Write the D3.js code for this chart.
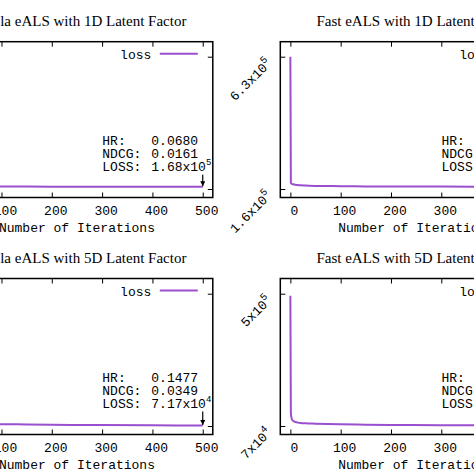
<!DOCTYPE html>
<html>
<head>
<meta charset="utf-8">
<script src="https://cdn.jsdelivr.net/npm/d3@7"></script>
<style>
  html, body { margin: 0; padding: 0; background: #ffffff; }
  svg { display: block; }
</style>
</head>
<body>
<svg id="chart" width="474" height="474"></svg>
<script>
// ---------------- data ----------------
const iterations = [0, 1, 2, 3, 5, 7, 10, 15, 20, 30, 50, 75, 100, 150, 200, 300, 400, 500];

const vanilla1DLoss = [630000, 185000, 180000, 178000, 176000, 175000, 174000, 172500, 171500, 170500, 169500, 169000, 168800, 168500, 168300, 168100, 168050, 168000];
const fast1DLoss    = [630000, 182000, 179000, 178000, 177000, 176000, 175000, 174000, 173000, 172000, 171000, 170500, 170000, 169300, 168900, 168500, 168200, 168000];
const vanilla5DLoss = [493000, 130000, 110000, 100000, 92000, 88000, 85000, 82500, 81000, 79500, 78000, 77000, 76000, 75000, 74200, 73000, 72300, 71700];
const fast5DLoss    = [493000, 112000, 99000, 92000, 87500, 85000, 83000, 81000, 80000, 78800, 77700, 76500, 75500, 74300, 73500, 72600, 72000, 71700];

const titles = [
  "Vanilla eALS with 1D Latent Factor",
  "Fast eALS with 1D Latent Factor",
  "Vanilla eALS with 5D Latent Factor",
  "Fast eALS with 5D Latent Factor"
];

const xDomain = [-20, 520];
const xTicks = [0, 100, 200, 300, 400, 500];
const xLabel = "Number of Iterations";

const yDomain1D = [129800, 683300];
const yDomain5D = [42400, 549400];
const yTicks1D = [160000, 630000];
const yTicks5D = [70000, 500000];
const yTickLabels1D = ["1.6x10^5", "6.3x10^5"];
const yTickLabels5D = ["7x10^4", "5x10^5"];

const legendLabel = "loss";
const statLabels = ["HR:", "NDCG:", "LOSS:"];
const vanilla1DStats = ["0.0680", "0.0161", "1.68x10^5"];
const vanilla5DStats = ["0.1477", "0.0349", "7.17x10^4"];

// ---------------- layout ----------------
const LINE = "#9a4fcf";
const MONO = "'Liberation Mono', 'DejaVu Sans Mono', monospace";
const SERIF = "'Liberation Serif', 'DejaVu Serif', serif";

const panels = [
  { left: -58.9, right: 212.8, top: 41.7, bottom: 197.5, title: titles[0], loss: vanilla1DLoss, yDomain: yDomain1D, yTicks: yTicks1D, yLabels: yTickLabels1D, stats: vanilla1DStats },
  { left: 280.3, right: 552.0, top: 41.7, bottom: 197.5, title: titles[1], loss: fast1DLoss, yDomain: yDomain1D, yTicks: yTicks1D, yLabels: yTickLabels1D, stats: null },
  { left: -58.9, right: 212.8, top: 278.5, bottom: 434.5, title: titles[2], loss: vanilla5DLoss, yDomain: yDomain5D, yTicks: yTicks5D, yLabels: yTickLabels5D, stats: vanilla5DStats },
  { left: 280.3, right: 552.0, top: 278.5, bottom: 434.5, title: titles[3], loss: fast5DLoss, yDomain: yDomain5D, yTicks: yTicks5D, yLabels: yTickLabels5D, stats: null }
];

const svg = d3.select("#chart");

const defs = svg.append("defs");
defs.append("marker")
  .attr("id", "arrowhead")
  .attr("viewBox", "0 0 10 10")
  .attr("refX", 10).attr("refY", 5)
  .attr("markerWidth", 6).attr("markerHeight", 5)
  .attr("markerUnits", "userSpaceOnUse")
  .attr("orient", "auto")
  .append("path").attr("d", "M0,0 L10,5 L0,10 Z").attr("fill", "#000");

function writePower(textSel, str, supSize, supDy) {
  const parts = str.split("^");
  textSel.append("tspan").text(parts[0]);
  if (parts.length > 1) {
    textSel.append("tspan").attr("font-size", supSize).attr("dy", supDy).text(parts[1]);
  }
}

panels.forEach(p => {
  const x = d3.scaleLinear().domain(xDomain).range([p.left, p.right]);
  const y = d3.scaleLinear().domain(p.yDomain).range([p.bottom, p.top]);
  const g = svg.append("g");

  // title
  g.append("text")
    .attr("x", (p.left + p.right) / 2 + 0.5)
    .attr("y", p.top - 16)
    .attr("text-anchor", "middle")
    .attr("font-family", SERIF)
    .attr("font-size", 15)
    .attr("fill", "#000")
    .text(p.title);

  // line
  const lineGen = d3.line()
    .x((d, i) => x(iterations[i]))
    .y(d => y(d))
    .curve(d3.curveMonotoneX);
  g.append("path")
    .datum(p.loss)
    .attr("d", lineGen)
    .attr("fill", "none")
    .attr("stroke", LINE)
    .attr("stroke-width", 2);

  // axes
  const axisStyle = sel => {
    sel.select(".domain").remove();
    sel.selectAll(".tick line").attr("stroke", "#000").attr("stroke-width", 1);
    sel.selectAll("text").attr("font-family", MONO).attr("font-size", 13).attr("fill", "#000");
  };

  g.append("g")
    .attr("transform", `translate(0,${p.bottom})`)
    .call(d3.axisBottom(x).tickValues(xTicks).tickSize(-5).tickPadding(8).tickFormat(d3.format("d")))
    .call(axisStyle)
    .call(s => s.selectAll("text").attr("dx", 3.5));

  g.append("g")
    .attr("transform", `translate(0,${p.top})`)
    .call(d3.axisTop(x).tickValues(xTicks).tickSize(-5).tickFormat(""))
    .call(axisStyle);

  g.append("g")
    .attr("transform", `translate(${p.right},0)`)
    .call(d3.axisRight(y).tickValues(p.yTicks).tickSize(-5).tickFormat(""))
    .call(axisStyle);

  const leftAxis = g.append("g")
    .attr("transform", `translate(${p.left},0)`)
    .call(d3.axisLeft(y).tickValues(p.yTicks).tickSize(-5).tickFormat(""))
    .call(axisStyle);
  leftAxis.selectAll(".tick").each(function(d, i) {
    const t = d3.select(this).append("text")
      .attr("x", -8).attr("y", 7)
      .attr("transform", "rotate(-45,-8,7)")
      .attr("text-anchor", "end")
      .attr("font-family", MONO)
      .attr("font-size", 13)
      .attr("fill", "#000");
    writePower(t, p.yLabels[i], 10, -6);
  });

  // frame
  g.append("rect")
    .attr("x", p.left).attr("y", p.top)
    .attr("width", p.right - p.left).attr("height", p.bottom - p.top)
    .attr("fill", "none").attr("stroke", "#000").attr("stroke-width", 1.5);

  // x label
  g.append("text")
    .attr("x", (p.left + p.right) / 2)
    .attr("y", p.bottom + 34)
    .attr("text-anchor", "middle")
    .attr("font-family", MONO)
    .attr("font-size", 13)
    .attr("fill", "#000")
    .text(xLabel);

  // legend
  g.append("text")
    .attr("x", p.right - 61.5)
    .attr("y", p.top + 17)
    .attr("text-anchor", "end")
    .attr("font-family", MONO)
    .attr("font-size", 13)
    .attr("fill", "#000")
    .text(legendLabel);
  g.append("line")
    .attr("x1", p.right - 53).attr("x2", p.right - 15)
    .attr("y1", p.top + 12).attr("y2", p.top + 12)
    .attr("stroke", LINE).attr("stroke-width", 2);

  // stats
  statLabels.forEach((lab, i) => {
    g.append("text")
      .attr("x", p.right - 110.5)
      .attr("y", p.top + 103 + i * 13)
      .attr("font-family", MONO)
      .attr("font-size", 13)
      .attr("fill", "#000")
      .text(lab);
    if (p.stats) {
      const t = g.append("text")
        .attr("x", p.right - 61.5)
        .attr("y", p.top + 103 + i * 13)
        .attr("font-family", MONO)
        .attr("font-size", 13)
        .attr("fill", "#000");
      writePower(t, p.stats[i], 9, -6);
    }
  });

  // arrow to final loss
  if (p.stats) {
    const lastX = x(iterations[iterations.length - 1]);
    const lastY = y(p.loss[p.loss.length - 1]);
    g.append("line")
      .attr("x1", lastX).attr("x2", lastX)
      .attr("y1", p.top + 133).attr("y2", lastY - 0.5)
      .attr("stroke", "#000").attr("stroke-width", 1.2)
      .attr("marker-end", "url(#arrowhead)");
  }
});
</script>
</body>
</html>
